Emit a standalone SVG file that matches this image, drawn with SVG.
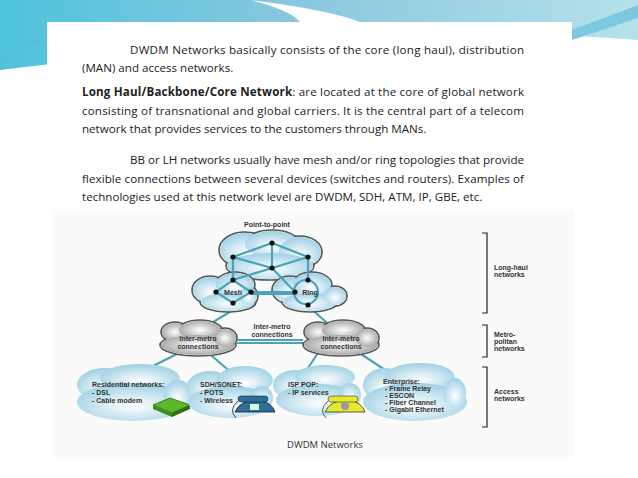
<svg xmlns="http://www.w3.org/2000/svg" width="638" height="478" viewBox="0 0 638 478">
<defs>
<linearGradient id="bg" x1="0" y1="0" x2="1" y2="0"><stop offset="0" stop-color="#4fc3dc"/><stop offset="0.5" stop-color="#8cc8e0"/><stop offset="1" stop-color="#b5e2ea"/></linearGradient>
<radialGradient id="bc" cx="0.5" cy="0.6" r="0.6"><stop offset="0" stop-color="#ffffff"/><stop offset="1" stop-color="#9fd0e4"/></radialGradient>
<radialGradient id="gc" cx="0.5" cy="0.5" r="0.6"><stop offset="0" stop-color="#ffffff"/><stop offset="1" stop-color="#9a9a9a"/></radialGradient>
<style>
.t{font-family:"Open Sans","Liberation Sans",sans-serif;font-size:11.6px;fill:#222}
.b{font-weight:bold}
.s{font-family:"Liberation Sans",sans-serif;font-size:7px;font-weight:bold;fill:#333}
.st{stroke:#555;stroke-width:1.6}
.ln{stroke:#4aa3b8;stroke-width:2.2;fill:none}
.d{fill:#111}
.br{stroke:#222;stroke-width:1.2;fill:none}
</style>
</defs>
<rect width="638" height="478" fill="#fff"/>
<path d="M0 0H638V40Q400 20 0 70Z" fill="url(#bg)"/>
<path d="M250 0Q330 10 360 22L300 22Q290 10 250 0Z" fill="#fff"/>
<path d="M572 30L638 5V18L572 40Z" fill="#7cc8e0"/>
<path d="M0 70Q20 40 47 40" stroke="#5fb8d3" fill="none"/>
<rect x="47" y="22" width="525" height="187" fill="#fff"/>
<rect x="52" y="209" width="523" height="248" fill="#fafafa"/>
<g id="text">
<text class="t" x="130" y="54" textLength="394" lengthAdjust="spacing">DWDM Networks basically consists of the core (long haul), distribution</text>
<text class="t" x="82" y="72">(MAN) and access networks.</text>
<text class="t" x="82" y="96" textLength="442" lengthAdjust="spacing"><tspan class="b">Long Haul/Backbone/Core Network</tspan>: are located at the core of global network</text>
<text class="t" x="82" y="115" textLength="442" lengthAdjust="spacing">consisting of transnational and global carriers. It is the central part of a telecom</text>
<text class="t" x="82" y="133">network that provides services to the customers through MANs.</text>
<text class="t" x="130" y="164" textLength="394" lengthAdjust="spacing">BB or LH networks usually have mesh and/or ring topologies that provide</text>
<text class="t" x="82" y="183" textLength="442" lengthAdjust="spacing">flexible connections between several devices (switches and routers). Examples of</text>
<text class="t" x="82" y="201">technologies used at this network level are DWDM, SDH, ATM, IP, GBE, etc.</text>
</g>
<g id="connectors">
<path class="ln" d="M233 310L200 330M308 306L335 330M185 350L125 380M205 350L240 380M320 350L300 380M355 350L400 380"/>
<path class="ln" d="M237 340H303M237 343H303" stroke-width="1.4"/>
</g>
<g id="core">
<g class="st" fill="#fff">
<ellipse cx="245" cy="250" rx="26" ry="18"/><ellipse cx="272" cy="244" rx="28" ry="14"/><ellipse cx="300" cy="252" rx="22" ry="16"/><ellipse cx="270" cy="266" rx="44" ry="14"/>
</g>
<g fill="url(#bc)">
<ellipse cx="245" cy="250" rx="25" ry="17"/><ellipse cx="272" cy="244" rx="27" ry="13"/><ellipse cx="300" cy="252" rx="21" ry="15"/><ellipse cx="270" cy="266" rx="43" ry="13"/>
</g>
</g>
<g id="mesh">
<g class="st" fill="#fff"><ellipse cx="210" cy="290" rx="18" ry="14"/><ellipse cx="235" cy="285" rx="20" ry="13"/><ellipse cx="228" cy="302" rx="28" ry="10"/><ellipse cx="248" cy="296" rx="10" ry="10"/></g>
<g fill="url(#bc)"><ellipse cx="210" cy="290" rx="17" ry="13"/><ellipse cx="235" cy="285" rx="19" ry="12"/><ellipse cx="228" cy="302" rx="27" ry="9"/><ellipse cx="248" cy="296" rx="9" ry="9"/></g>
</g>
<g id="ring">
<g class="st" fill="#fff"><ellipse cx="290" cy="290" rx="18" ry="14"/><ellipse cx="312" cy="285" rx="20" ry="13"/><ellipse cx="310" cy="302" rx="28" ry="10"/><ellipse cx="335" cy="296" rx="12" ry="10"/></g>
<g fill="url(#bc)"><ellipse cx="290" cy="290" rx="17" ry="13"/><ellipse cx="312" cy="285" rx="19" ry="12"/><ellipse cx="310" cy="302" rx="27" ry="9"/><ellipse cx="335" cy="296" rx="11" ry="9"/></g>
</g>
<g id="topology">
<path class="ln" stroke-width="1.3" d="M272 243L233 257L272 268L308 257L272 243M272 243V268M233 257V280M272 268L233 280M216 292L233 280L251 292L233 303L216 292M251 292H295M251 294H295M272 268L295 292M308 257L308 280"/>
<circle class="ln" stroke-width="1.3" cx="306" cy="292" r="12"/>
<g class="d"><circle cx="272" cy="243" r="2.6"/><circle cx="233" cy="257" r="2.6"/><circle cx="308" cy="257" r="2.6"/><circle cx="272" cy="268" r="2.6"/><circle cx="233" cy="280" r="2.6"/><circle cx="216" cy="292" r="2.6"/><circle cx="251" cy="292" r="2.6"/><circle cx="233" cy="303" r="2.6"/><circle cx="295" cy="292" r="2.6"/><circle cx="308" cy="305" r="2.6"/><circle cx="308" cy="280" r="2.6"/></g>
<text class="s" x="267" y="227" text-anchor="middle">Point-to-point</text>
<text class="s" x="233" y="295" text-anchor="middle">Mesh</text>
<text class="s" x="310" y="295" text-anchor="middle">Ring</text>
</g>
<g id="metro-left">
<g class="st" fill="#fff"><ellipse cx="175" cy="332" rx="14" ry="10"/><ellipse cx="200" cy="330" rx="22" ry="10"/><ellipse cx="198" cy="345" rx="38" ry="11"/><ellipse cx="225" cy="338" rx="12" ry="10"/></g>
<g fill="url(#gc)"><ellipse cx="175" cy="332" rx="13" ry="9"/><ellipse cx="200" cy="330" rx="21" ry="9"/><ellipse cx="198" cy="345" rx="37" ry="10"/><ellipse cx="225" cy="338" rx="11" ry="9"/></g>
<text class="s" x="198" y="341" text-anchor="middle">Inter-metro</text><text class="s" x="198" y="349" text-anchor="middle">connections</text>
</g>
<g id="metro-right">
<g class="st" fill="#fff"><ellipse cx="318" cy="332" rx="14" ry="10"/><ellipse cx="343" cy="330" rx="22" ry="10"/><ellipse cx="341" cy="345" rx="38" ry="11"/><ellipse cx="367" cy="338" rx="12" ry="10"/></g>
<g fill="url(#gc)"><ellipse cx="318" cy="332" rx="13" ry="9"/><ellipse cx="343" cy="330" rx="21" ry="9"/><ellipse cx="341" cy="345" rx="37" ry="10"/><ellipse cx="367" cy="338" rx="11" ry="9"/></g>
<text class="s" x="341" y="341" text-anchor="middle">Inter-metro</text><text class="s" x="341" y="349" text-anchor="middle">connections</text>
</g>
<text class="s" x="272" y="329" text-anchor="middle">Inter-metro</text><text class="s" x="272" y="337" text-anchor="middle">connections</text>
<g id="access" fill="url(#bc)">
<g id="res"><ellipse cx="105" cy="385" rx="28" ry="17"/><ellipse cx="140" cy="378" rx="40" ry="14"/><ellipse cx="133" cy="402" rx="56" ry="19"/><ellipse cx="178" cy="395" rx="14" ry="15"/>
<text class="s" x="92" y="387">Residential networks:</text><text class="s" x="92" y="395">- DSL</text><text class="s" x="92" y="403">- Cable modem</text>
<path d="M153 405L170 398L190 405L172 413Z" fill="#5cb82a" stroke="#2d6b10" stroke-width="0.8"/><path d="M153 405V409L172 417V413Z" fill="#3f8e1d"/><path d="M172 413V417L190 409V405Z" fill="#2f7010"/></g>
<g id="sdh"><ellipse cx="210" cy="388" rx="24" ry="17"/><ellipse cx="245" cy="380" rx="28" ry="14"/><ellipse cx="230" cy="402" rx="42" ry="16"/><ellipse cx="262" cy="398" rx="11" ry="12"/>
<text class="s" x="200" y="387">SDH/SONET:</text><text class="s" x="200" y="395">- POTS</text><text class="s" x="200" y="403">- Wireless</text>
<path d="M235 412Q240 400 258 400Q272 402 275 412Z" fill="#2e6e98" stroke="#123" stroke-width="0.8"/><rect x="238" y="396" width="30" height="6" rx="3" fill="#2e6e98" stroke="#123" stroke-width="0.6"/><rect x="250" y="404" width="9" height="6" fill="#cfd"/><path d="M238 401Q228 410 236 418" stroke="#123" fill="none" stroke-width="0.8"/></g>
<g id="isp"><ellipse cx="295" cy="385" rx="22" ry="15"/><ellipse cx="325" cy="377" rx="30" ry="12"/><ellipse cx="318" cy="400" rx="42" ry="16"/><ellipse cx="350" cy="395" rx="11" ry="12"/>
<text class="s" x="288" y="387">ISP POP:</text><text class="s" x="288" y="395">- IP services</text>
<path d="M325 412Q330 400 348 400Q362 402 365 412Z" fill="#e4e830" stroke="#333" stroke-width="0.8"/><rect x="328" y="396" width="30" height="6" rx="3" fill="#e4e830" stroke="#333" stroke-width="0.6"/><circle cx="345" cy="406" r="4" fill="#999"/><path d="M328 401Q318 410 326 418" stroke="#333" fill="none" stroke-width="0.8"/></g>
<g id="ent"><ellipse cx="385" cy="385" rx="22" ry="17"/><ellipse cx="420" cy="377" rx="35" ry="14"/><ellipse cx="415" cy="402" rx="52" ry="19"/><ellipse cx="455" cy="393" rx="11" ry="15"/>
<text class="s" x="383" y="384">Enterprise:</text><text class="s" x="385" y="391">- Frame Relay</text><text class="s" x="385" y="398">- ESCON</text><text class="s" x="385" y="405">- Fiber Channel</text><text class="s" x="385" y="412">- Gigabit Ethernet</text></g>
</g>
<g id="levels">
<path class="br" d="M482 233H487V313H482M482 325H487V357H482M482 367H487V427H482"/>
<text class="s" x="494" y="270">Long-haul</text><text class="s" x="494" y="277">networks</text>
<text class="s" x="494" y="337">Metro-</text><text class="s" x="494" y="344">politan</text><text class="s" x="494" y="351">networks</text>
<text class="s" x="494" y="394">Access</text><text class="s" x="494" y="401">networks</text>
</g>
<text x="325" y="448" text-anchor="middle" font-family="Open Sans,Liberation Sans,sans-serif" font-size="9.5" fill="#333">DWDM Networks</text>
</svg>
